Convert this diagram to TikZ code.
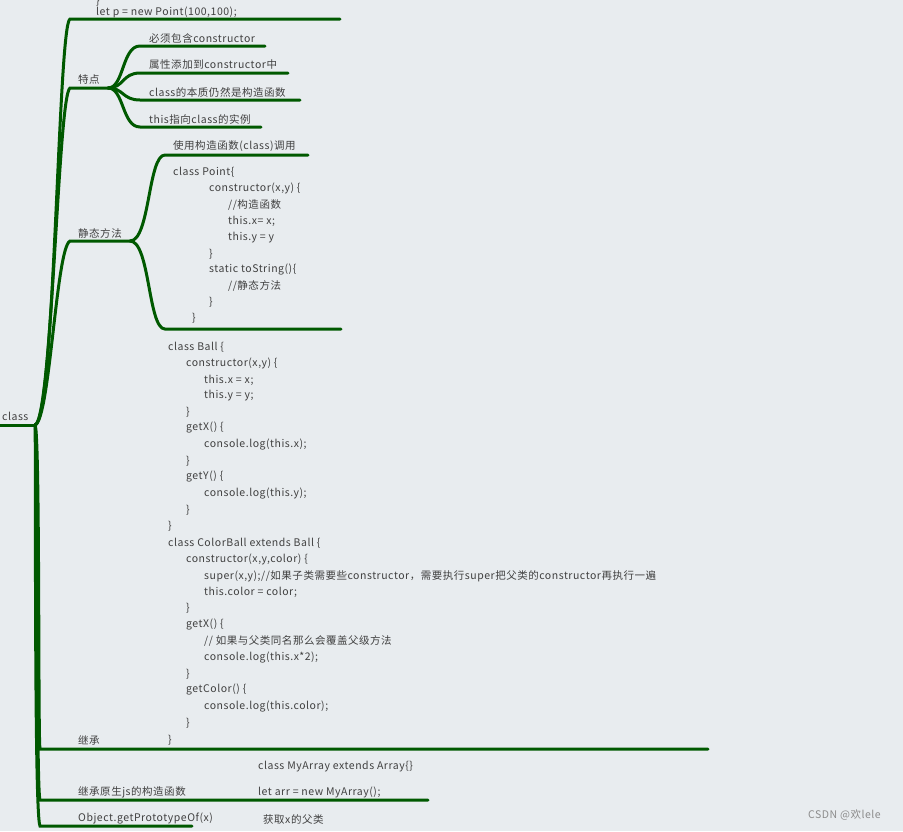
\documentclass[tikz,border=0pt]{standalone}
\usepackage{fontspec}
\setmainfont[LetterSpace=5]{Noto Sans CJK SC}
\definecolor{bg}{RGB}{232,236,239}
\begin{document}
\begin{tikzpicture}[x=1pt,y=-1pt,
  br/.style={draw=green!35!black,line width=3pt,line cap=round},
  tx/.style={anchor=west,inner sep=0pt,text=black!75,font=\fontsize{10.5}{11}\selectfont}]
\fill[bg] (0,0) rectangle (903,831);
\useasboundingbox (0,0) rectangle (903,831);
% coordinates
\coordinate (root) at (35,425);
\coordinate (r0) at (0,425);
\coordinate (a) at (70,19); \coordinate (ae) at (340,19);
\coordinate (b) at (70,88); \coordinate (bj) at (108,88);
\coordinate (b1) at (140,46); \coordinate (b1e) at (265,46);
\coordinate (b2) at (140,73); \coordinate (b2e) at (288,73);
\coordinate (b3) at (140,100); \coordinate (b3e) at (300,100);
\coordinate (b4) at (140,127); \coordinate (b4e) at (261,127);
\coordinate (c) at (70,241); \coordinate (cj) at (130,241);
\coordinate (c1) at (165,155); \coordinate (c1e) at (308,155);
\coordinate (c2) at (165,329); \coordinate (c2e) at (341,329);
\coordinate (d) at (40,749); \coordinate (de) at (708,749);
\coordinate (e) at (40,800); \coordinate (ee) at (428,800);
\coordinate (f) at (40,826); \coordinate (fe) at (192,826);
% branches
\draw[br] (r0) -- (root);
\draw[br] (root) .. controls (55,420) and (58,25) .. (a) -- (ae);
\draw[br] (root) .. controls (52,420) and (58,95) .. (b) -- (bj);
\draw[br] (root) .. controls (50,420) and (56,248) .. (c) -- (cj);
\draw[br] (root) .. controls (40,430) and (38,740) .. (d) -- (de);
\draw[br] (root) .. controls (38,430) and (36,790) .. (e) -- (ee);
\draw[br] (root) .. controls (36,430) and (34,815) .. (f) -- (fe);
\draw[br] (bj) .. controls (124,88) and (122,46) .. (b1) -- (b1e);
\draw[br] (bj) .. controls (124,88) and (122,73) .. (b2) -- (b2e);
\draw[br] (bj) .. controls (124,88) and (122,100) .. (b3) -- (b3e);
\draw[br] (bj) .. controls (124,88) and (122,127) .. (b4) -- (b4e);
\draw[br] (cj) .. controls (150,241) and (148,155) .. (c1) -- (c1e);
\draw[br] (cj) .. controls (150,241) and (148,329) .. (c2) -- (c2e);
% texts
\node[tx] (root t) at (2,416) {class};
\node[tx] (a0) at (96,1) {\}};
\node[tx] (a1) at (96,12) {let p = new Point(100,100);};
\node[tx] (bt) at (78,79) {特点};
\node[tx] (bt1) at (149,38) {必须包含constructor};
\node[tx] (bt2) at (149,65) {属性添加到constructor中};
\node[tx] (bt3) at (149,92) {class的本质仍然是构造函数};
\node[tx] (bt4) at (149,119) {this指向class的实例};
\node[tx] (ct) at (78,233) {静态方法};
\node[tx] (ch) at (173,146) {使用构造函数(class)调用};
\foreach \xx/\yy/\s [count=\i] in {173/172/{class Point\{},209/188/{constructor(x,y) \{},228/205/{//构造函数},228/221/{this.x= x;},228/238/{this.y = y},209/254/{\}},209/270/{static toString()\{},228/286/{//静态方法},209/302/{\}},192/318/{\}}}
  \node[tx] (cc\i) at (\xx,\yy) {\s};
\foreach \xx/\yy/\s [count=\i] in {
168/347/{class Ball \{},186/363/{constructor(x,y) \{},204/380/{this.x = x;},204/396/{this.y = y;},186/412/{\}},
186/428/{getX() \{},204/445/{console.log(this.x);},186/461/{\}},186/477/{getY() \{},204/494/{console.log(this.y);},
186/510/{\}},168/526/{\}},168/543/{class ColorBall extends Ball \{},186/559/{constructor(x,y,color) \{},
204/576/{super(x,y);//如果子类需要些constructor，需要执行super把父类的constructor再执行一遍},204/592/{this.color = color;},
186/608/{\}},186/625/{getX() \{},204/641/{// 如果与父类同名那么会覆盖父级方法},204/658/{console.log(this.x*2);},
186/674/{\}},186/690/{getColor() \{},204/707/{console.log(this.color);},186/723/{\}},168/740/{\}}}
  \node[tx] (dc\i) at (\xx,\yy) {\s};
\node[tx] (dt) at (78,740) {继承};
\node[tx] (e1) at (258,767) {class MyArray extends Array\{\}};
\node[tx] (e2) at (258,792) {let arr = new MyArray();};
\node[tx] (et) at (78,792) {继承原生js的构造函数};
\node[tx] (ft) at (78,819) {Object.getPrototypeOf(x)};
\node[tx] (f2) at (263,819) {获取x的父类};
\node[tx,text=black!45] (wm) at (808,815) {CSDN @欢lele};
\end{tikzpicture}
\end{document}
